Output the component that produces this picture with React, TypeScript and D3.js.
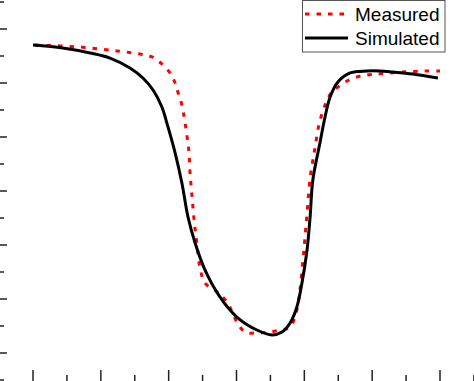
import React from "react";
import * as d3 from "d3";

const simX = [0, 0.88, 1.68, 2.27, 2.86, 3.24, 3.54, 3.8, 3.98, 4.19, 4.39, 4.57, 4.78, 5.07, 5.51, 6.01, 6.6, 7.05, 7.34, 7.58, 7.78, 7.93, 8.08, 8.17, 8.25, 8.46, 8.61, 8.76, 8.99, 9.35, 9.85, 10.23, 10.6, 11.2, 11.94];
const simY = [-1.48, -1.76, -2.22, -2.69, -3.61, -4.54, -5.65, -7.22, -9.07, -11.48, -14.26, -17.41, -19.81, -22.31, -24.81, -26.67, -27.87, -28.33, -28.06, -27.22, -25.74, -23.52, -20.46, -17.41, -14.0, -10.56, -8.15, -6.3, -4.91, -4.07, -3.89, -3.89, -3.98, -4.17, -4.54];

const measX = [0.06, 1.39, 2.48, 3.15, 3.51, 3.8, 4.04, 4.19, 4.28, 4.39, 4.54, 4.6, 4.63, 4.69, 4.75, 4.83, 4.92, 5.07, 5.4, 5.72, 6.01, 6.25, 6.6, 6.93, 7.28, 7.58, 7.78, 7.87, 7.96, 8.02, 8.08, 8.17, 8.26, 8.32, 8.43, 8.61, 8.79, 8.96, 9.2, 9.55, 9.85, 10.17, 10.91, 11.56, 12.0];
const measY = [-1.48, -1.67, -2.04, -2.31, -2.59, -3.24, -4.07, -5.0, -5.93, -7.04, -9.91, -11.48, -13.33, -15.56, -17.69, -19.81, -22.04, -23.52, -24.26, -25.28, -27.13, -28.06, -28.15, -28.06, -27.87, -27.59, -26.02, -24.17, -21.39, -19.26, -17.04, -13.8, -12.0, -10.9, -8.89, -7.04, -5.93, -5.46, -4.91, -4.44, -4.26, -4.17, -3.98, -3.89, -3.89];

const xTicks = d3.range(-1, 13.01, 1);
const yTicks = d3.range(-32.5, 2.51, 2.5);
const legendLabels = ["Measured", "Simulated"];

export default function App() {
  const W = 474, H = 381;
  const x = d3.scaleLinear().domain([0, 12]).range([33, 440]);
  const y = d3.scaleLinear().domain([-30, 0]).range([353, 29]);
  const frameLeft = -3, frameBottom = 381;
  const line = d3
    .line<[number, number]>()
    .x((d) => x(d[0]))
    .y((d) => y(d[1]))
    .curve(d3.curveCatmullRom.alpha(0.5));
  const sim = simX.map((v, i) => [v, simY[i]] as [number, number]);
  const meas = measX.map((v, i) => [v, measY[i]] as [number, number]);
  const isMajorX = (v: number) => Math.abs(v % 2) < 1e-6;
  const isMajorY = (v: number) => Math.abs(v % 5) < 1e-6;
  return (
    <svg width={W} height={H} style={{ position: "absolute", left: 0, top: 0, background: "#fff" }}>
      <rect x={0} y={0} width={W} height={H} fill="#fff" />
      {xTicks.map((v) => (
        <line key={"x" + v} x1={x(v)} x2={x(v)} y1={frameBottom} y2={frameBottom - (isMajorX(v) ? 11 : 6)} stroke="#222" strokeWidth={1.5} />
      ))}
      {yTicks.map((v) => (
        <line key={"y" + v} x1={frameLeft} x2={frameLeft + (isMajorY(v) ? 10 : 7)} y1={y(v)} y2={y(v)} stroke="#222" strokeWidth={1.5} />
      ))}
      <path d={line(meas) || ""} fill="none" stroke="#ff0000" strokeWidth={3} strokeDasharray="4.5,7" />
      <path d={line(sim) || ""} fill="none" stroke="#000" strokeWidth={3} />
      <g>
        <rect x={302.5} y={0.5} width={142.5} height={51.5} fill="#fff" stroke="#555" strokeWidth={1} />
        <line x1={305} x2={346} y1={14} y2={14} stroke="#ff0000" strokeWidth={3} strokeDasharray="4.5,7" />
        <line x1={305} x2={348} y1={38} y2={38} stroke="#000" strokeWidth={3} />
        <text x={355} y={21} fontFamily="'Liberation Sans', Arial, sans-serif" fontSize={19} fill="#000">{legendLabels[0]}</text>
        <text x={355} y={45} fontFamily="'Liberation Sans', Arial, sans-serif" fontSize={19} fill="#000">{legendLabels[1]}</text>
      </g>
    </svg>
  );
}
